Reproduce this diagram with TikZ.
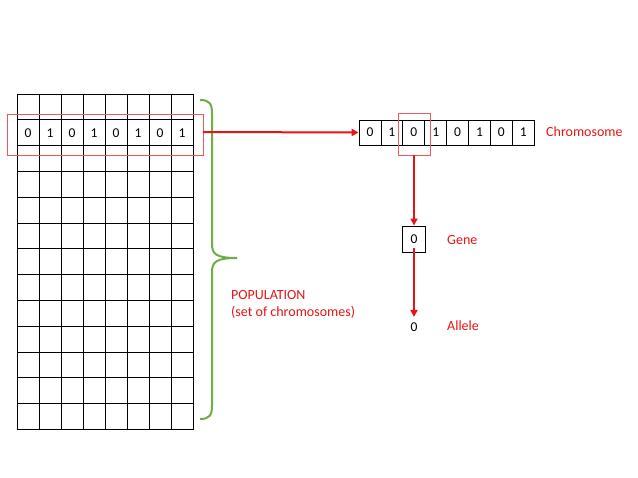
\documentclass[tikz,border=0pt]{standalone}
\usepackage{fontspec}
\setmainfont{Carlito}
\usetikzlibrary{arrows.meta}
\definecolor{myred}{RGB}{230,20,20}
\definecolor{mygreen}{RGB}{112,173,71}
\tikzset{
  cell/.style={draw=black,line width=0.9pt,minimum width=22pt,minimum height=25.8pt,inner sep=0pt,font=\fontsize{13.5}{16}\selectfont},
  redline/.style={draw=myred,line width=2pt,-{Triangle[length=7pt,width=7pt]}},
  lbl/.style={text=myred,font=\fontsize{14}{17}\selectfont,anchor=west,inner sep=0pt},
  hl/.style={draw=myred!70,line width=0.8pt}
}
\begin{document}
\begin{tikzpicture}[x=1pt,y=-1pt]
\useasboundingbox (0,0) rectangle (638,478);
% grid
\foreach \r in {0,...,12}{
  \foreach \c in {0,...,7}{
    \node[cell] (g\r-\c) at ({17+11+22*\c},{94+12.9+25.8*\r}) {};
  }
}
\foreach \v [count=\c from 0] in {0,1,0,1,0,1,0,1}{
  \node[font=\fontsize{13.5}{16}\selectfont] at (g1-\c) {\v};
}
\draw[hl] (7,114) rectangle (203,155);
\coordinate (popr) at (203,132);
% brace
\draw[mygreen,line width=2pt] (200,100) .. controls (210,100) and (212,104) .. (212,114) -- (212,244) .. controls (212,254) and (216,258) .. (237,258)
  (200,419) .. controls (210,419) and (212,415) .. (212,405) -- (212,272) .. controls (212,262) and (216,258) .. (237,258);
\node[lbl,anchor=west,align=left] (pop) at (231,304) {POPULATION\\(set of chromosomes)};
% chromosome
\foreach \v [count=\c from 0] in {0,1,0,1,0,1,0,1}{
  \node[cell,minimum width=21.9pt,minimum height=25pt] (k\c) at ({359+11+21.9*\c},132.5) {\v};
}
\draw[hl] (398,113) rectangle (430,155);
\coordinate (kb) at (414,155);
\node[lbl] (chl) at (546,132) {Chromosome};
\draw[redline] (popr) -- (k0.west);
% gene
\node[cell,minimum width=23pt,minimum height=26pt] (gene) at (414,239) {0};
\node[lbl] (gl) at (447,240) {Gene};
\draw[redline] (kb) -- (gene.north);
% allele
\node[font=\fontsize{13.5}{16}\selectfont,inner sep=0pt] (al) at (414,327) {0};
\node[lbl] (all) at (447,326) {Allele};
\coordinate (gs) at (414,248);
\draw[redline] (gs) -- (414,317);
\end{tikzpicture}
\end{document}
